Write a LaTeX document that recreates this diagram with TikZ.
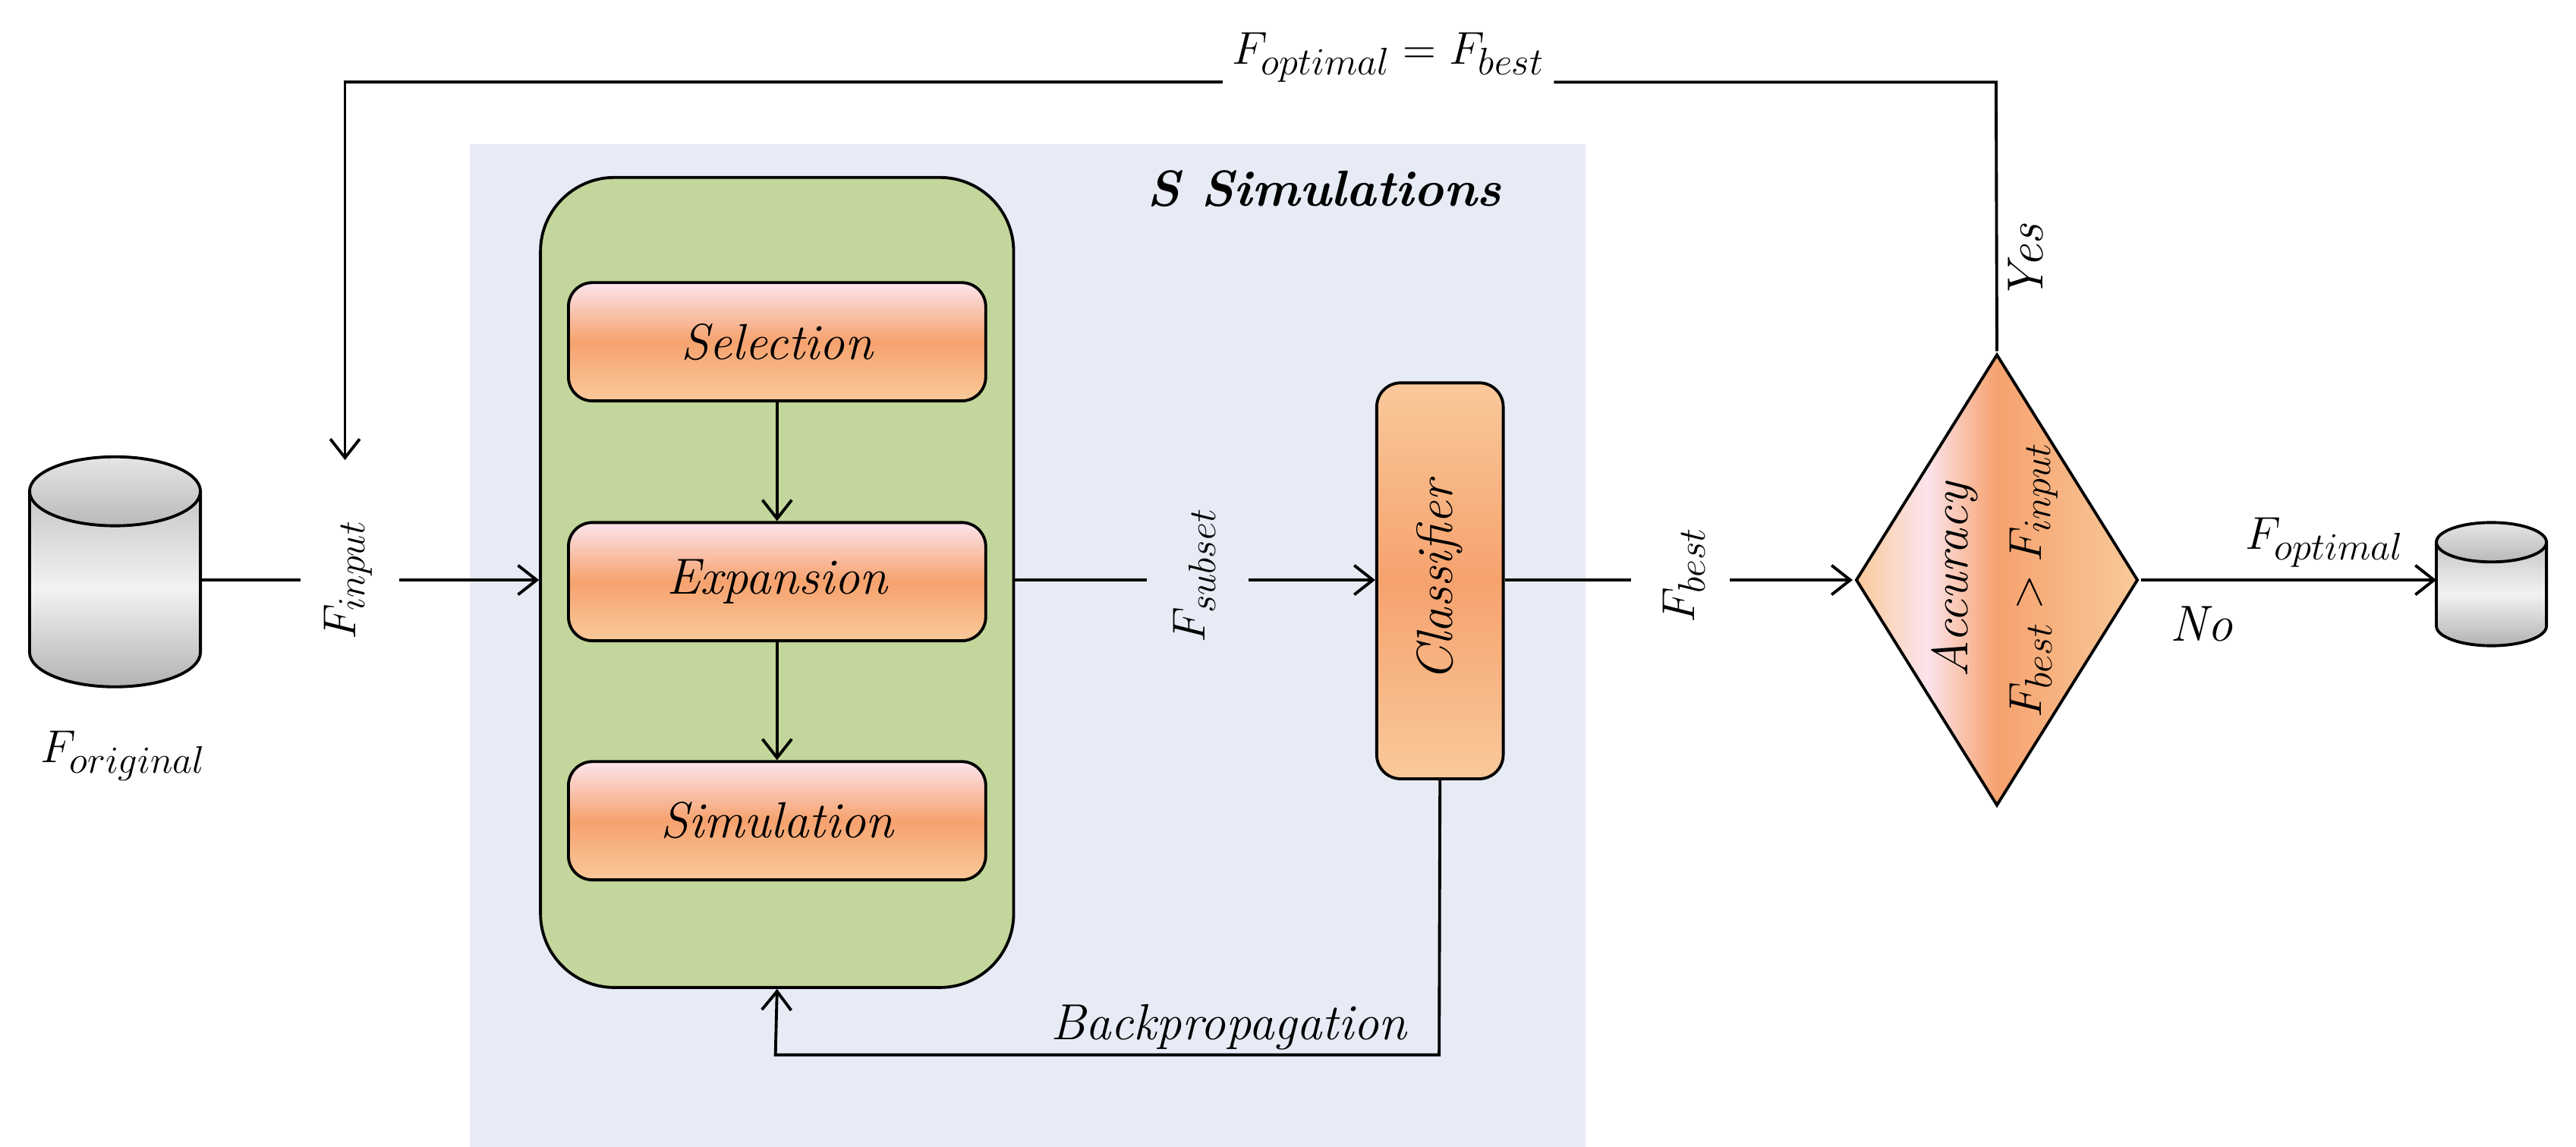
\documentclass[tikz,border=0pt]{standalone}
\usetikzlibrary{shapes.geometric,arrows.meta}
\definecolor{bgblue}{HTML}{E6EBF5}
\definecolor{green1}{HTML}{C3D69B}
\definecolor{pk}{HTML}{FCE4EC}
\definecolor{org}{HTML}{F6A26E}
\definecolor{org2}{HTML}{F9C99A}
\begin{document}
\begin{tikzpicture}[x=0.021645cm,y=-0.021645cm,
  every node/.style={font=\fontsize{19}{22}\selectfont},
  line/.style={draw=black, line width=1.1pt},
  arr/.style={line, -{Straight Barb[length=7pt,width=11pt]}},
  stage/.style={draw=black, line width=1.1pt, rounded corners=9pt, minimum width=254*0.021645cm, minimum height=72*0.021645cm,
     top color=pk, bottom color=org2, middle color=org, font=\fontsize{19}{22}\selectfont\itshape},
  lab/.style={inner sep=2pt}]
\useasboundingbox (0,0) rectangle (1568,698);
\fill[bgblue] (286,88) rectangle (965,698);
\node[draw=black, line width=1.1pt, fill=green1, rounded corners=45*0.021645cm, minimum width=288*0.021645cm, minimum height=493*0.021645cm] (grp) at (473,354.5) {};
\node[font=\fontsize{19}{22}\selectfont\bfseries\itshape] (stitle) at (806,115) {S Simulations};
\node[stage] (sel) at (473,208) {Selection};
\node[stage] (exp) at (473,354) {Expansion};
\node[stage] (sim) at (473,499.5) {Simulation};
\node[draw=black, line width=1.1pt, rounded corners=9pt, minimum width=77*0.021645cm, minimum height=241*0.021645cm,
  left color=org2, right color=org2, middle color=org, shading angle=0] (cls) at (876.5,353.5) {};
\node[rotate=90, font=\fontsize{19}{22}\selectfont\itshape] (clst) at (cls.center) {Classifier};
\node[diamond, aspect=0.63, minimum width=175*0.021645cm, minimum height=278*0.021645cm, inner sep=0pt] (dec) at (1215.5,353) {};
\shade[left color=org2, right color=org, middle color=pk] (1130,353) -- (1215.5,216) -- (1215.5,490) -- cycle;
\shade[left color=org, right color=org2] (1215.5,216) -- (1301,353) -- (1215.5,490) -- cycle;
\draw[line width=1.1pt] (1215.5,216) -- (1301,353) -- (1215.5,490) -- (1130,353) -- cycle;
\node[rotate=90, font=\fontsize{19}{22}\selectfont\itshape] (acc) at (1190,353) {Accuracy};
\node[rotate=90] (cond) at (1238,353) {$F_{best}>F_{input}$};
% left cylinder
\shade[top color=gray!45, bottom color=gray!60, middle color=gray!10, draw=black, line width=1.1pt]
  (18,299) -- (18,397) arc[start angle=180,end angle=0,x radius=52,y radius=21] -- (122,299) -- cycle;
\shade[top color=gray!20, bottom color=gray!55, draw=black, line width=1.1pt] (70,299) ellipse[x radius=52,y radius=21];
\coordinate (db1) at (122,353);
\node (forig) at (75,460) {$F_{original}$};
% right cylinder
\shade[top color=gray!45, bottom color=gray!60, middle color=gray!10, draw=black, line width=1.1pt]
  (1483,330) -- (1483,381) arc[start angle=180,end angle=0,x radius=33.5,y radius=12] -- (1550,330) -- cycle;
\shade[top color=gray!20, bottom color=gray!55, draw=black, line width=1.1pt] (1516.5,330) ellipse[x radius=33.5,y radius=12];
\coordinate (db2) at (1483,353);
% labels on connectors
\node[rotate=90, lab] (fin) at (212,353) {$F_{input}$};
\node[rotate=90, lab] (fsub) at (727,350) {$F_{subset}$};
\node[rotate=90, lab] (fbest) at (1025,350) {$F_{best}$};
\node (fopt) at (1415,330) {$F_{optimal}$};
\node (no) at (1340,380) {\itshape No};
\node[rotate=90] (yes) at (1233,160) {\itshape Yes};
\node (feq) at (845,35) {$F_{optimal}=F_{best}$};
\node (bp) at (748,625) {\itshape Backpropagation};
% connectors
\draw[line] (db1) -- (183,353);
\draw[arr] (243,353) -- (grp.west |- 0,353);
\draw[arr] (sel) -- (exp);
\draw[arr] (exp) -- (sim);
\draw[line] (grp.east |- 0,353) -- (698,353);
\draw[arr] (760,353) -- (cls.west |- 0,353);
\draw[line] (cls.east |- 0,353) -- (993,353);
\draw[arr] (1053,353) -- (dec.west);
\draw[arr] (dec.east) -- (db2);
\draw[line] (dec.north) -- (1215,50) -- (feq.east |- 0,50);
\draw[arr] (feq.west |- 0,50) -- (210,50) -- (210,280);
\draw[arr] (cls.south) -- (876,642) -- (472,642) -- (grp.south);
\end{tikzpicture}
\end{document}
